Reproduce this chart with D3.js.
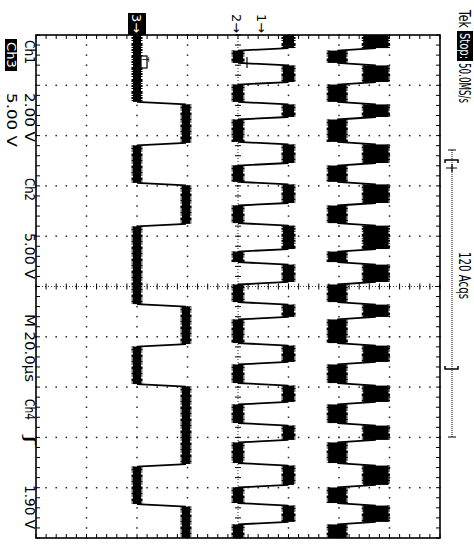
<!DOCTYPE html>
<html>
<head>
<meta charset="utf-8">
<script src="https://cdn.jsdelivr.net/npm/d3@7"></script>
<style>
  body { margin: 0; background: #fff; }
  text { font-family: "DejaVu Sans", sans-serif; fill: #000; }
</style>
</head>
<body>
<svg id="scope"></svg>
<script>
// scope screen is shown turned 90deg clockwise: time runs down, volts run right
const timeDomain = [0, 200];      // µs (20 µs/div, 10 div)
const divDomain = [-4, 4];        // vertical divisions

// transition times (µs)
const ch3Edges = [26.6, 42.9, 58.8, 75.1, 107.0, 122.9, 138.8, 170.6, 186.5];
const ch12Edges = [5.2, 11.1, 18.7, 26.6, 32.6, 42.5, 50.9, 58.4, 66.8, 74.8,
  85.1, 90.3, 98.2, 106.2, 112.1, 122.5, 130.0, 138.4, 145.9, 154.3,
  161.0, 170.2, 178.9, 186.1, 193.6];

// channel settings (ground offset in div, V/div) and levels in volts
const channelNames = ["Ch3", "Ch2", "Ch1"];
const grounds = [-2.0, 0.0, 0.48];
const voltsPerDiv = [5, 5, 2];
const lowLevels = [0.0, 0.0, 2.97];
const highLevels = [4.85, 5.0, 4.5];
const lowNoise = [0.4, 0.5, 0.36];
const highNoise = [0.4, 0.55, 0.5];
const startsHigh = [false, true, true];
const edgeSets = [ch3Edges, ch12Edges, ch12Edges];

const W = 474, H = 544;
const svg = d3.select("#scope").attr("width", W).attr("height", H);

const y = d3.scaleLinear().domain(timeDomain).range([35, 538]);
const x = d3.scaleLinear().domain(divDomain).range([36, 440]);

const grid = svg.append("g").attr("class", "grid");

// dotted division lines
const minorT = d3.range(timeDomain[0], timeDomain[1] + 0.01, 4);
const minorD = d3.range(divDomain[0], divDomain[1] + 0.01, 0.2);
const vLines = d3.range(-3, 4).filter(d => d !== 0);
const hLines = d3.range(20, 200, 20).filter(d => d !== 100);

vLines.forEach(d => {
  grid.selectAll(null).data(minorT).join("rect")
    .attr("x", x(d) - 0.75).attr("y", t => y(t) - 0.75)
    .attr("width", 1.5).attr("height", 1.5).attr("fill", "#222");
});
hLines.forEach(t => {
  grid.selectAll(null).data(minorD).join("rect")
    .attr("x", d => x(d) - 0.75).attr("y", y(t) - 0.75)
    .attr("width", 1.5).attr("height", 1.5).attr("fill", "#222");
});

// centre cross with tick marks
grid.append("line")
  .attr("x1", x(0)).attr("x2", x(0)).attr("y1", y(0)).attr("y2", y(200))
  .attr("stroke", "#333").attr("stroke-width", 1).attr("stroke-dasharray", "1 2");
grid.append("line")
  .attr("x1", x(-4)).attr("x2", x(4)).attr("y1", y(100)).attr("y2", y(100))
  .attr("stroke", "#333").attr("stroke-width", 1).attr("stroke-dasharray", "1 2");
grid.selectAll(".ctick-v").data(minorT).join("line").attr("class", "ctick-v")
  .attr("x1", x(0) - 3).attr("x2", x(0) + 3)
  .attr("y1", t => y(t)).attr("y2", t => y(t))
  .attr("stroke", "#000").attr("stroke-width", 1);
grid.selectAll(".ctick-h").data(minorD).join("line").attr("class", "ctick-h")
  .attr("x1", d => x(d)).attr("x2", d => x(d))
  .attr("y1", y(100) - 3).attr("y2", y(100) + 3)
  .attr("stroke", "#000").attr("stroke-width", 1);

// border ticks pointing inward
grid.selectAll(".btick-l").data(minorT).join("line").attr("class", "btick-l")
  .attr("x1", x(-4)).attr("x2", x(-4) + 4).attr("y1", t => y(t)).attr("y2", t => y(t))
  .attr("stroke", "#000");
grid.selectAll(".btick-r").data(minorT).join("line").attr("class", "btick-r")
  .attr("x1", x(4) - 4).attr("x2", x(4)).attr("y1", t => y(t)).attr("y2", t => y(t))
  .attr("stroke", "#000");
grid.selectAll(".btick-t").data(minorD).join("line").attr("class", "btick-t")
  .attr("x1", d => x(d)).attr("x2", d => x(d)).attr("y1", y(0)).attr("y2", y(0) + 4)
  .attr("stroke", "#000");
grid.selectAll(".btick-b").data(minorD).join("line").attr("class", "btick-b")
  .attr("x1", d => x(d)).attr("x2", d => x(d)).attr("y1", y(200) - 4).attr("y2", y(200))
  .attr("stroke", "#000");

grid.append("rect")
  .attr("x", x(-4)).attr("y", y(0))
  .attr("width", x(4) - x(-4)).attr("height", y(200) - y(0))
  .attr("fill", "none").attr("stroke", "#000").attr("stroke-width", 1.6);

// traces
const traces = svg.append("g").attr("class", "traces");
const ramp = 1.0; // µs the edge takes to cross

channelNames.forEach((name, i) => {
  const vx = v => x(grounds[i] + v / voltsPerDiv[i]);
  const edges = edgeSets[i];
  const bounds = [timeDomain[0]].concat(edges, [timeDomain[1]]);
  const segs = d3.pairs(bounds).map(([t0, t1], k) => {
    const high = (k % 2 === 0) === startsHigh[i];
    return {
      t0: k === 0 ? t0 : t0 + ramp, t1,
      v: high ? highLevels[i] : lowLevels[i],
      n: high ? highNoise[i] : lowNoise[i]
    };
  });
  const g = traces.append("g").attr("class", name);
  g.selectAll("rect.band").data(segs).join("rect").attr("class", "band")
    .attr("x", d => vx(d.v - d.n)).attr("width", d => vx(d.v + d.n) - vx(d.v - d.n))
    .attr("y", d => y(d.t0)).attr("height", d => Math.max(0, y(d.t1) - y(d.t0)))
    .attr("fill", "#000");
  // ragged band edges
  g.selectAll("line.rag").data(segs.flatMap(d => [
      { t0: d.t0, t1: d.t1, xv: vx(d.v - d.n) }, { t0: d.t0, t1: d.t1, xv: vx(d.v + d.n) }]))
    .join("line").attr("class", "rag")
    .attr("x1", d => d.xv).attr("x2", d => d.xv)
    .attr("y1", d => y(d.t0)).attr("y2", d => y(d.t1))
    .attr("stroke", "#000").attr("stroke-width", 3)
    .attr("stroke-dasharray", "1 1 2 1 1 2 3 1");
  // edges as thin slanted lines
  g.selectAll("line.edge").data(edges).join("line").attr("class", "edge")
    .attr("x1", (t, k) => vx(segs[k].v)).attr("y1", t => y(t))
    .attr("x2", (t, k) => vx(segs[k + 1].v)).attr("y2", t => y(t + ramp))
    .attr("stroke", "#000").attr("stroke-width", 1.8);
});

// small markers on the traces
svg.append("rect").attr("x", 141).attr("y", 56).attr("width", 6).attr("height", 12)
  .attr("fill", "#fff").attr("stroke", "#000").attr("stroke-width", 1.2);
svg.append("text").attr("transform", "translate(142,57) rotate(90)")
  .style("font-size", "8px").text("T");
svg.append("line").attr("x1", 247).attr("x2", 247).attr("y1", 57).attr("y2", 68)
  .attr("stroke", "#000").attr("stroke-width", 1.2);

// rotated text helper (reads top to bottom)
function rtext(str, bx, y0, len, size, color) {
  return svg.append("text")
    .attr("transform", `translate(${bx},${y0}) rotate(90)`)
    .attr("textLength", len).attr("lengthAdjust", "spacingAndGlyphs")
    .style("font-size", size + "px").style("fill", color || "#000")
    .text(str);
}

// ground markers
svg.append("rect").attr("x", 128).attr("y", 13).attr("width", 18).attr("height", 22).attr("fill", "#000");
rtext("3→", 131.5, 14, 19, 13, "#fff");
rtext("2→", 232, 14, 19, 13);
rtext("1→", 257, 14, 19, 13);

// bottom readout (left edge)
rtext("Ch1", 25, 40, 24, 13.5);
rtext("2.00 V", 25, 93, 49, 13.5);
rtext("Ch2", 25, 178, 23, 13.5);
rtext("5.00 V", 25, 233, 46, 13.5);
rtext("M 20.0µs", 25, 314, 68, 13.5);
rtext("Ch4", 25, 399, 21, 13.5);
rtext("ʃ", 25, 435, 10, 13.5);
rtext("1.90 V", 25, 485, 44, 13.5);
svg.append("rect").attr("x", 5).attr("y", 39).attr("width", 12).attr("height", 32).attr("fill", "#000");
rtext("Ch3", 7, 42, 26, 12, "#fff");
rtext("5.00 V", 7, 93, 54, 13.5);

// top readout (right edge)
rtext("Tek", 459, 10, 18, 15);
svg.append("rect").attr("x", 457).attr("y", 31).attr("width", 16).attr("height", 30).attr("fill", "#000");
rtext("Stop:", 459.5, 33, 26, 14.5, "#fff");
rtext("50.0MS/s", 459, 63, 40, 15);
rtext("120 Acqs", 459, 252, 47, 15);

// record / trigger position bar
const bar = svg.append("g");
bar.append("line").attr("x1", 452).attr("x2", 452).attr("y1", 150).attr("y2", 437)
  .attr("stroke", "#000").attr("stroke-dasharray", "1 1");
bar.append("line").attr("x1", 448).attr("x2", 456).attr("y1", 150).attr("y2", 150).attr("stroke", "#000");
bar.append("line").attr("x1", 448).attr("x2", 456).attr("y1", 437).attr("y2", 437).attr("stroke", "#000");
bar.append("path").attr("d", "M445,163 V160 H458 V163").attr("fill", "none").attr("stroke", "#000").attr("stroke-width", 1.5);
bar.append("path").attr("d", "M445,366 V369 H458 V366").attr("fill", "none").attr("stroke", "#000").attr("stroke-width", 1.5);
bar.append("path").attr("d", "M446,168 H457 M452,164 V172").attr("fill", "none").attr("stroke", "#000").attr("stroke-width", 1.2);
</script>
</body>
</html>
